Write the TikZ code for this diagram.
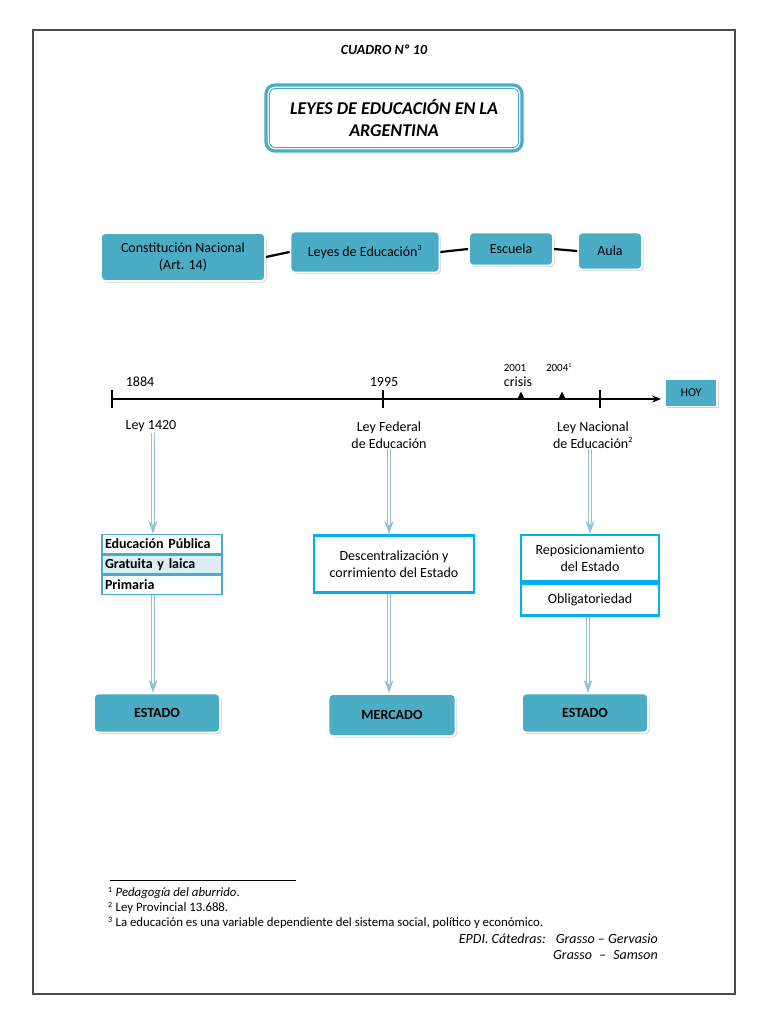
\documentclass[tikz,border=0pt]{standalone}
\usepackage{fontspec}
\setmainfont{Carlito}
\usetikzlibrary{positioning,arrows.meta,shadows}

\definecolor{aqua}{HTML}{4BACC6}
\definecolor{celeste}{HTML}{00B0F0}
\definecolor{clarito}{HTML}{DAEEF3}
\definecolor{marco}{HTML}{4A4A4A}
\definecolor{flechac}{HTML}{8FC3D5}

\tikzset{
  caja/.style={draw=white, line width=1.8pt, fill=aqua, rounded corners=4pt,
    drop shadow={shadow xshift=1.5pt, shadow yshift=-1.5pt, opacity=0.35},
    align=center, inner sep=2pt, font=\fontsize{14}{16.5}\selectfont},
  fila/.style={draw=aqua, line width=1.5pt, minimum width=120pt, minimum height=19pt,
    text width=114pt, align=left, inner xsep=3pt, inner ysep=1pt,
    font=\bfseries\fontsize{14}{15}\selectfont},
  recuadro/.style={draw=celeste, line width=2.6pt, align=center, inner sep=2pt,
    font=\fontsize{14}{17}\selectfont},
  flecha/.style={draw=flechac, double=white, double distance=2.6pt, line width=0.9pt,
    -{Stealth[length=13pt, width=9pt]}},
  texto/.style={align=center, inner sep=1pt, font=\fontsize{14}{16.5}\selectfont},
  nota/.style={anchor=west, inner sep=0pt, font=\fontsize{12.8}{14}\selectfont}
}

\begin{document}
\begin{tikzpicture}[x=1pt, y=-1pt]
  \useasboundingbox (0,0) rectangle (768,1024);

  % Marco de la hoja
  \draw[marco, line width=2.8pt] (33,30) rectangle (735,994);

  % Encabezado
  \node[inner sep=0pt, font=\bfseries\itshape\fontsize{14}{16}\selectfont] (cuadro) at (384,50) {CUADRO Nº 10};
  \node[draw=aqua, line width=3.2pt, rounded corners=9pt, minimum width=256pt, minimum height=66pt,
        align=center, font=\bfseries\itshape\fontsize{18}{22}\selectfont] (titulo) at (394,118)
        {LEYES DE EDUCACIÓN EN LA\\ARGENTINA};
  \draw[aqua, line width=0.9pt, rounded corners=6pt]
    ([shift={(5,5)}]titulo.north west) rectangle ([shift={(-5,-5)}]titulo.south east);

  % Fila superior
  \node[caja, minimum width=164pt, minimum height=48pt] (constitucion) at (183,257) {Constitución Nacional\\(Art. 14)};
  \node[caja, minimum width=149pt, minimum height=41pt] (leyes) at (365,252) {Leyes de Educación\textsuperscript{\fontsize{8}{8}\selectfont 3}};
  \node[caja, minimum width=84pt, minimum height=33pt] (escuela) at (511,249) {Escuela};
  \node[caja, minimum width=64pt, minimum height=37pt] (aula) at (610,251) {Aula};
  \draw[line width=2.2pt] (constitucion.east) -- (leyes.west);
  \draw[line width=2.2pt] (leyes.east) -- (escuela.west);
  \draw[line width=2.2pt] (escuela.east) -- (aula.west);

  % Linea de tiempo
  \node[caja, rounded corners=0pt, minimum width=52pt, minimum height=27pt,
        font=\fontsize{12}{14}\selectfont] (hoy) at (691,393) {HOY};
  \coordinate (t0) at (112,399);
  \draw[line width=1.6pt, -{Stealth[length=9pt, width=7pt]}] (t0) -- ([xshift=-3pt]hoy.west |- t0);
  \foreach \x in {112,383,600}
    \draw[line width=1.6pt] (\x,390) -- (\x,408);
  \foreach \x in {521,562}
    \fill (\x-3.5,399) -- (\x,391.5) -- (\x+3.5,399) -- cycle;

  % Fechas
  \node[texto] (a1884) at (140,382) {1884};
  \node[texto] (a1995) at (384,382) {1995};
  \node[texto, font=\fontsize{11}{12}\selectfont] (a2001) at (515,368) {2001};
  \node[texto] (crisis) at (518,382) {crisis};
  \node[texto, font=\fontsize{11}{12}\selectfont] (a2004) at (559,368) {2004\textsuperscript{\fontsize{6}{6}\selectfont 1}};

  % Leyes
  \node[texto] (ley1420) at (151,426) {Ley 1420};
  \node[texto] (federal) at (389,435) {Ley Federal\\de Educación};
  \node[texto] (nacional) at (593,435) {Ley Nacional\\de Educación\textsuperscript{\fontsize{8}{8}\selectfont 2}};

  % Caracteristicas
  \node[fila] (publica) at (162,544) {Educación Pública};
  \node[fila, fill=clarito, below=0pt of publica] (gratuita) {Gratuita y laica};
  \node[fila, below=0pt of gratuita] (primaria) {Primaria};
  \node[recuadro, minimum width=160pt, minimum height=57pt] (descentra) at (394,564)
        {Descentralización y\\corrimiento del Estado};
  \node[recuadro, minimum width=138pt, minimum height=46pt] (reposicion) at (590,558)
        {Reposicionamiento\\del Estado};
  \node[recuadro, minimum width=138pt, minimum height=32pt, below=0pt of reposicion] (obliga) {Obligatoriedad};

  % Resultados
  \node[caja, minimum width=126pt, minimum height=39pt, font=\bfseries\fontsize{14}{16}\selectfont] (estado1) at (157,713) {ESTADO};
  \node[caja, minimum width=127pt, minimum height=42pt, font=\bfseries\fontsize{14}{16}\selectfont] (mercado) at (392,715) {MERCADO};
  \node[caja, minimum width=126pt, minimum height=39pt, font=\bfseries\fontsize{14}{16}\selectfont] (estado2) at (585,713) {ESTADO};

  % Flechas dobles
  \draw[flecha] ([xshift=2pt]ley1420.south) -- ([xshift=2pt]ley1420.south |- publica.north);
  \draw[flecha] ([xshift=2pt]ley1420.south |- primaria.south) -- ([xshift=2pt]ley1420.south |- estado1.north);
  \draw[flecha] (federal.south) -- (federal.south |- descentra.north);
  \draw[flecha] (federal.south |- descentra.south) -- (federal.south |- mercado.north);
  \draw[flecha] ([xshift=-3pt]nacional.south) -- ([xshift=-3pt]nacional.south |- reposicion.north);
  \draw[flecha] ([xshift=-5pt]nacional.south |- obliga.south) -- ([xshift=-5pt]nacional.south |- estado2.north);

  % Notas al pie
  \draw[line width=0.6pt] (110,880) -- (296,880);
  \node[nota] (nota1) at (108,893) {\textsuperscript{\fontsize{8}{8}\selectfont 1} \textit{Pedagogía del aburrido}.};
  \node[nota] (nota2) at (108,908) {\textsuperscript{\fontsize{8}{8}\selectfont 2} Ley Provincial 13.688.};
  \node[nota] (nota3) at (108,923) {\textsuperscript{\fontsize{8}{8}\selectfont 3} La educación es una variable dependiente del sistema social, político y económico.};
  \node[inner sep=0pt, anchor=east, font=\itshape\fontsize{14}{16}\selectfont] (catedra1) at (658,939)
        {EPDI. Cátedras:\hspace{10pt}Grasso -- Gervasio};
  \node[inner sep=0pt, anchor=east, font=\itshape\fontsize{14}{16}\selectfont] (catedra2) at (658,955)
        {Grasso\hspace{4pt} -- \hspace{4pt}Samson};
\end{tikzpicture}
\end{document}
